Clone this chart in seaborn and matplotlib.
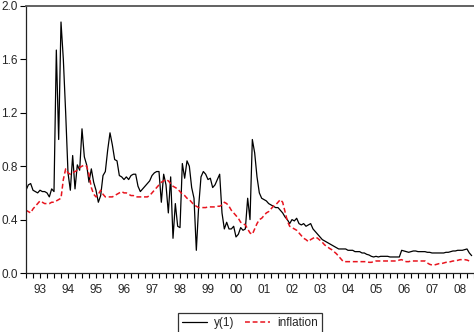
import numpy as np
import pandas as pd
import matplotlib
matplotlib.use("Agg")
import matplotlib.pyplot as plt
import seaborn as sns

# Monthly data, 1993M01 - 2008M12
start_year = 1993
y1 = [
    0.62, 0.66, 0.67, 0.62, 0.61, 0.60, 0.62, 0.61, 0.61, 0.60, 0.57, 0.63,
    0.61, 1.67, 1.00, 1.88, 1.60, 1.20, 0.75, 0.62, 0.88, 0.63, 0.81, 0.77,
    1.08, 0.87, 0.81, 0.68, 0.78, 0.68, 0.62, 0.53, 0.58, 0.73, 0.76, 0.92,
    1.05, 0.96, 0.85, 0.84, 0.73, 0.72, 0.70, 0.72, 0.70, 0.73, 0.74, 0.74,
    0.65, 0.61, 0.63, 0.65, 0.67, 0.69, 0.73, 0.75, 0.76, 0.76, 0.53, 0.74,
    0.66, 0.45, 0.72, 0.26, 0.52, 0.35, 0.34, 0.82, 0.71, 0.84, 0.80, 0.64,
    0.56, 0.17, 0.50, 0.72, 0.76, 0.74, 0.70, 0.71, 0.64, 0.66, 0.70, 0.74,
    0.45, 0.33, 0.38, 0.33, 0.33, 0.35, 0.27, 0.29, 0.34, 0.32, 0.33, 0.56,
    0.40, 1.00, 0.90, 0.72, 0.60, 0.56, 0.55, 0.54, 0.52, 0.51, 0.50, 0.49,
    0.49, 0.47, 0.45, 0.42, 0.40, 0.37, 0.40, 0.39, 0.41, 0.37, 0.36, 0.37,
    0.35, 0.36, 0.37, 0.33, 0.31, 0.29, 0.27, 0.25, 0.24, 0.23, 0.22, 0.21,
    0.20, 0.19, 0.18, 0.18, 0.18, 0.18, 0.17, 0.17, 0.17, 0.16, 0.16, 0.16,
    0.15, 0.15, 0.14, 0.135, 0.125, 0.12, 0.125, 0.12, 0.125, 0.125, 0.125, 0.125,
    0.12, 0.12, 0.12, 0.12, 0.12, 0.17, 0.165, 0.16, 0.155, 0.16, 0.165, 0.165,
    0.16, 0.16, 0.16, 0.16, 0.155, 0.155, 0.15, 0.15, 0.15, 0.15, 0.15, 0.15,
    0.155, 0.155, 0.16, 0.165, 0.165, 0.17, 0.17, 0.17, 0.175, 0.18, 0.15, 0.13,
]
inflation = [
    0.47, 0.46, 0.45, 0.48, 0.50, 0.52, 0.54, 0.53, 0.52, 0.52, 0.52, 0.53,
    0.53, 0.54, 0.55, 0.56, 0.70, 0.78, 0.75, 0.74, 0.75, 0.76, 0.77, 0.79,
    0.80, 0.81, 0.80, 0.74, 0.64, 0.59, 0.57, 0.59, 0.62, 0.59, 0.57, 0.57,
    0.57, 0.57, 0.58, 0.59, 0.60, 0.61, 0.60, 0.60, 0.59, 0.58, 0.58, 0.57,
    0.57, 0.57, 0.57, 0.57, 0.57, 0.58, 0.60, 0.62, 0.64, 0.66, 0.68, 0.69,
    0.70, 0.69, 0.67, 0.65, 0.64, 0.63, 0.61, 0.59, 0.58, 0.56, 0.55, 0.53,
    0.51, 0.50, 0.49, 0.49, 0.49, 0.49, 0.495, 0.495, 0.495, 0.495, 0.50, 0.50,
    0.51, 0.53, 0.52, 0.50, 0.47, 0.45, 0.43, 0.41, 0.38, 0.37, 0.36, 0.33,
    0.30, 0.29, 0.33, 0.37, 0.40, 0.41, 0.43, 0.45, 0.46, 0.48, 0.50, 0.51,
    0.53, 0.55, 0.53, 0.46, 0.39, 0.35, 0.34, 0.33, 0.32, 0.30, 0.28, 0.26,
    0.25, 0.235, 0.25, 0.26, 0.27, 0.26, 0.245, 0.23, 0.21, 0.20, 0.185, 0.175,
    0.16, 0.145, 0.125, 0.105, 0.085, 0.085, 0.085, 0.085, 0.085, 0.085, 0.085, 0.085,
    0.085, 0.085, 0.085, 0.08, 0.08, 0.085, 0.09, 0.09, 0.09, 0.09, 0.09, 0.09,
    0.09, 0.09, 0.09, 0.09, 0.097, 0.10, 0.09, 0.085, 0.085, 0.09, 0.09, 0.09,
    0.09, 0.09, 0.09, 0.09, 0.075, 0.065, 0.06, 0.06, 0.065, 0.07, 0.07, 0.075,
    0.08, 0.08, 0.085, 0.09, 0.09, 0.095, 0.10, 0.10, 0.10, 0.097, 0.09, 0.085,
]
year_labels = ["93", "94", "95", "96", "97", "98", "99", "00",
               "01", "02", "03", "04", "05", "06", "07", "08"]
y_ticks = [0.0, 0.4, 0.8, 1.2, 1.6, 2.0]

t = start_year + np.arange(len(y1)) / 12.0
df = pd.DataFrame({"t": t, "y(1)": y1, "inflation": inflation})

sns.set_style("ticks")
plt.rcParams["font.family"] = ["Liberation Sans", "DejaVu Sans"]

fig = plt.figure(figsize=(4.74, 3.32), dpi=100)
ax = fig.add_axes([26 / 474, 1 - 273 / 332, 1 - 26 / 474, (273 - 6) / 332])

sns.lineplot(data=df, x="t", y="y(1)", ax=ax, color="black", lw=0.9, label="y(1)")
sns.lineplot(data=df, x="t", y="inflation", ax=ax, color="#e8141e", lw=1.1,
             dashes=False, label="inflation")
ax.lines[-1].set_dashes((3.2, 1.8))

ax.set_xlim(start_year, start_year + len(year_labels))
ax.set_ylim(0, 2.0)
ax.set_xlabel("")
ax.set_ylabel("")

ax.set_yticks(y_ticks)
ax.set_yticklabels([f"{v:.1f}" for v in y_ticks], fontsize=8.5)
ax.tick_params(axis="y", direction="out", length=4, width=0.8, pad=2, color="black")

mid = start_year + 0.5 + np.arange(len(year_labels))
ax.xaxis.remove_overlapping_locs = False
ax.set_xticks(mid)
ax.set_xticklabels(year_labels, fontsize=8.5)
ax.set_xticks(start_year + np.arange(0, len(year_labels) * 4 + 1) / 4.0, minor=True)
ax.tick_params(axis="x", which="major", length=0, pad=8)
ax.tick_params(axis="x", which="minor", direction="out", length=3.5, width=0.8, color="black")

for side in ["left", "bottom", "top"]:
    ax.spines[side].set_color("#222222")
    ax.spines[side].set_linewidth(0.9)
ax.spines["top"].set_linewidth(1.3)
ax.spines["top"].set_color("#555555")
ax.spines["right"].set_visible(False)

ax.legend_.remove()
handles, labels = ax.get_legend_handles_labels()
leg = fig.legend(handles, labels, loc="upper center", bbox_to_anchor=(250 / 474, 1 - 312.5 / 332),
                 ncol=2, frameon=True, fancybox=False, fontsize=8.5, handlelength=2.1,
                 handletextpad=0.6, columnspacing=0.9, borderpad=0.35, borderaxespad=0)
leg.get_frame().set_edgecolor("black")
leg.get_frame().set_linewidth(0.9)

fig.savefig("out.png", dpi=100)
